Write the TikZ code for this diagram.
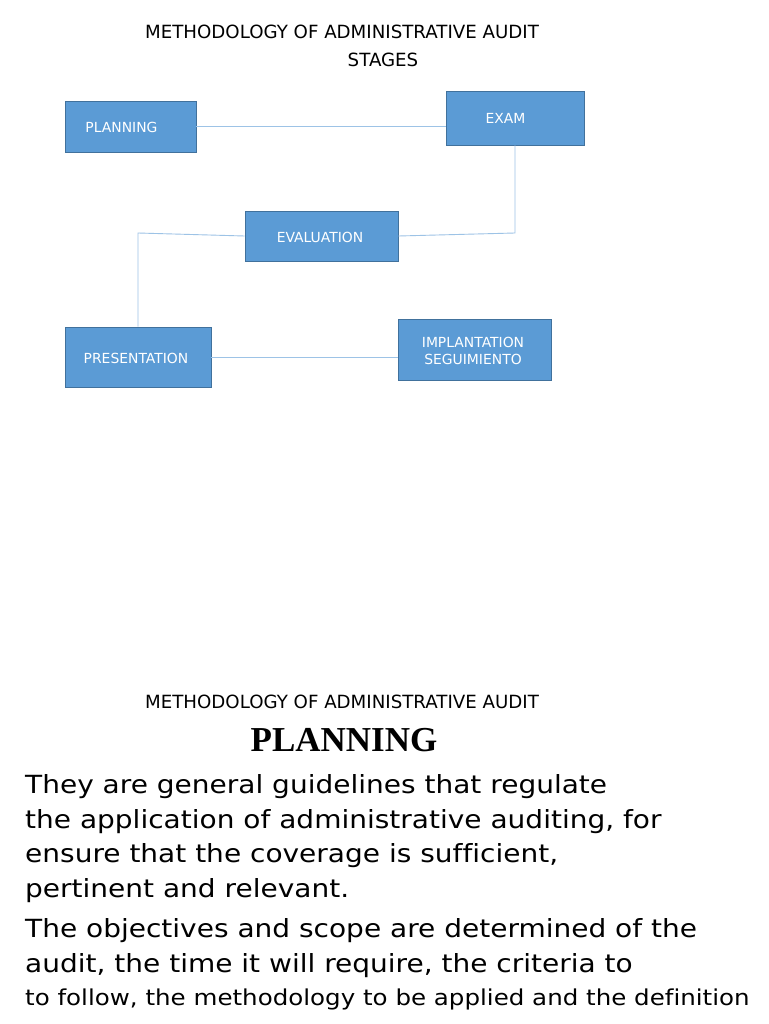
\documentclass[tikz,border=0pt]{standalone}
\usepackage{fontspec}
\setmainfont{DejaVu Sans}
\newfontfamily\bodyfont[FakeStretch=1.12,Ligatures=NoCommon]{DejaVu Sans}
\newfontfamily\headfont{Liberation Serif}
\definecolor{boxfill}{HTML}{5B9BD5}
\definecolor{boxline}{HTML}{41719C}
\definecolor{conn}{HTML}{9DC3E6}
\begin{document}
\begin{tikzpicture}[x=1pt,y=-1pt,
  stagebox/.style={draw=boxline,fill=boxfill,line width=0.8pt,inner sep=0pt},
  boxtext/.style={text=white,font=\fontsize{13.9}{16}\selectfont,inner sep=0pt,align=center},
  link/.style={draw=conn,line width=0.9pt},
  titletext/.style={inner sep=0pt,anchor=base,font=\fontsize{18.2}{21}\selectfont},
  bodytext/.style={inner sep=0pt,anchor=base west,font=\bodyfont\fontsize{25}{30}\selectfont}]
\useasboundingbox (0,0) rectangle (768,1024);
\fill[white] (0,0) rectangle (768,1024);
% titles
\node[titletext] (t1) at (342,38.5) {METHODOLOGY OF ADMINISTRATIVE AUDIT};
\node[titletext] (t2) at (383,66.5) {STAGES};
% boxes
\node[stagebox,minimum width=131pt,minimum height=51pt] (plan) at (130.5,126.5) {};
\node[stagebox,minimum width=138pt,minimum height=54pt] (exam) at (515,118) {};
\node[stagebox,minimum width=153pt,minimum height=50pt] (eval) at (321.5,236) {};
\node[stagebox,minimum width=146pt,minimum height=60pt] (pres) at (138,357) {};
\node[stagebox,minimum width=153pt,minimum height=61pt] (impl) at (474.5,349.5) {};
\node[boxtext] (planl) at (121.5,127.5) {PLANNING};
\node[boxtext] (examl) at (505.5,118.5) {EXAM};
\node[boxtext] (evall) at (320,237) {EVALUATION};
\node[boxtext] (presl) at (136,358.5) {PRESENTATION};
\node[boxtext,font=\fontsize{13.9}{17}\selectfont] (impll) at (473,351) {IMPLANTATION\\SEGUIMIENTO};
% connectors
\coordinate (c1) at (515,233);
\coordinate (c2) at (138,233);
\draw[link] (plan.east) -- (exam.west |- plan.east);
\draw[link] (exam.south) -- (c1) -- (eval.east);
\draw[link] (eval.west) -- (c2) -- (pres.north);
\draw[link] (pres.east) -- (impl.west |- pres.east);
% second page
\node[titletext] (t3) at (342,708) {METHODOLOGY OF ADMINISTRATIVE AUDIT};
\node[inner sep=0pt,anchor=base,font=\headfont\bfseries\fontsize{35}{40}\selectfont] (head) at (344,751.5) {PLANNING};
\node[bodytext] (l1) at (25,793.5) {They are general guidelines that regulate};
\node[bodytext] (l2) at (25,828) {the application of administrative auditing, for};
\node[bodytext] (l3) at (25,862.5) {ensure that the coverage is sufficient,};
\node[bodytext] (l4) at (25,897) {pertinent and relevant.};
\node[bodytext] (l5) at (25,937.5) {The objectives and scope are determined of the};
\node[bodytext] (l6) at (25,972.5) {audit, the time it will require, the criteria to};
\node[bodytext,font=\bodyfont\fontsize{21.9}{26}\selectfont] (l7) at (25,1005) {to follow, the methodology to be applied and the definition};
\end{tikzpicture}
\end{document}
